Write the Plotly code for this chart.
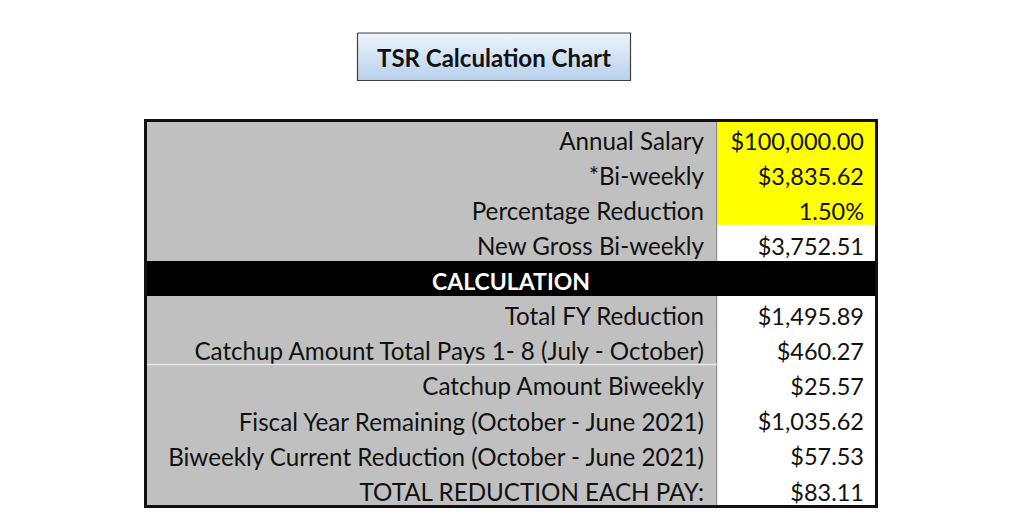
import plotly.graph_objects as go

# ---------------- data ----------------
title_text = "TSR Calculation Chart"
row_labels = [
    "Annual Salary",
    "*Bi-weekly",
    "Percentage Reduction",
    "New Gross Bi-weekly",
    "CALCULATION",
    "Total FY Reduction",
    "Catchup Amount Total Pays 1- 8 (July - October)",
    "Catchup Amount Biweekly",
    "Fiscal Year Remaining (October - June 2021)",
    "Biweekly Current Reduction (October - June 2021)",
    "TOTAL REDUCTION EACH PAY:",
]
row_values = [100000.00, 3835.62, 1.50, 3752.51, None, 1495.89, 460.27, 25.57, 1035.62, 57.53, 83.11]
row_formats = ["money", "money", "pct", "money", None, "money", "money", "money", "money", "money", "money"]
row_kinds = ["input", "input", "input", "plain", "header", "plain", "plain", "plain", "plain", "plain", "plain"]

# ---------------- styles ----------------
GRAY = "#c0c0c0"
YELLOW = "#ffff00"
WHITE = "#ffffff"
BLACK = "#000000"
FONT = "Lato"
W, H = 1024, 523
OFF = 8  # page body margin
ROW_PX = 35.1
TOP_PX = 120.5
X_LEFT, X_DIV, X_RIGHT = 145.5, 716.7, 876.5
LABEL_X, VALUE_X = 704, 864
EPS = 0.03
TEXT_DY = 0.66  # text sits a little low in each cell


def fmt(v, f):
    if v is None:
        return ""
    if f == "money":
        return "${:,.2f}".format(v)
    if f == "pct":
        return "{:.2f}%".format(v)
    return str(v)


n = len(row_labels)
y_top = (OFF - TOP_PX) / ROW_PX
y_bot = (H + OFF - TOP_PX) / ROW_PX

fig = go.Figure()
shapes = []

for i, kind in enumerate(row_kinds):
    y0 = i - (EPS if i > 0 else 0)
    y1 = i + 1 + (EPS if i < n - 1 else 0)
    if kind == "header":
        continue
    if i > 0 and row_kinds[i - 1] == "header":
        y0 = i
    if i + 1 < n and row_kinds[i + 1] == "header":
        y1 = i + 1
    shapes.append(dict(type="rect", xref="x", yref="y", x0=X_LEFT, x1=X_DIV + 1, y0=y0, y1=y1,
                       fillcolor=GRAY, line=dict(width=0), layer="below"))
    shapes.append(dict(type="rect", xref="x", yref="y", x0=X_DIV, x1=X_RIGHT, y0=y0, y1=y1,
                       fillcolor=YELLOW if kind == "input" else WHITE, line=dict(width=0), layer="below"))

hdr = row_kinds.index("header")
shapes.append(dict(type="rect", xref="x", yref="y", x0=X_LEFT, x1=X_RIGHT, y0=hdr, y1=hdr + 1,
                   fillcolor=BLACK, line=dict(width=0), layer="below"))
# column divider (not across header row)
shapes.append(dict(type="line", xref="x", yref="y", x0=X_DIV, x1=X_DIV, y0=0, y1=hdr,
                   line=dict(color="#7f7f7f", width=1)))
shapes.append(dict(type="line", xref="x", yref="y", x0=X_DIV, x1=X_DIV, y0=hdr + 1, y1=n,
                   line=dict(color="#7f7f7f", width=1)))
# faint separator in label column
shapes.append(dict(type="line", xref="x", yref="y", x0=X_LEFT, x1=X_DIV, y0=6.95, y1=6.95,
                   line=dict(color="#e8e8e8", width=1.5)))
# outer border
shapes.append(dict(type="rect", xref="x", yref="y", x0=X_LEFT, x1=X_RIGHT, y0=0, y1=n,
                   line=dict(color="#111111", width=3), fillcolor="rgba(0,0,0,0)"))

# title box with gradient
tb_x0, tb_x1 = 357.5, 630.5
tb_y0, tb_y1 = (33 - TOP_PX) / ROW_PX, (80.5 - TOP_PX) / ROW_PX
fig.add_trace(go.Scatter(
    x=[tb_x0, tb_x1, tb_x1, tb_x0, tb_x0], y=[tb_y0, tb_y0, tb_y1, tb_y1, tb_y0],
    mode="lines", fill="toself",
    fillgradient=dict(type="vertical", start=tb_y0, stop=tb_y1,
                      colorscale=[[0, "#eef4fc"], [1, "#b7d1ec"]]),
    line=dict(color="#404040", width=1.2), hoverinfo="skip", showlegend=False))
fig.add_trace(go.Scatter(
    x=[(tb_x0 + tb_x1) / 2], y=[(tb_y0 + tb_y1) / 2 + 0.11], mode="text",
    text=["<b>" + title_text + "</b>"], textposition="middle center",
    textfont=dict(family=FONT, size=24, color="#111111"), hoverinfo="skip", showlegend=False))

lab_idx = [i for i, k in enumerate(row_kinds) if k != "header"]
fig.add_trace(go.Scatter(
    x=[LABEL_X] * len(lab_idx), y=[i + TEXT_DY for i in lab_idx], mode="text",
    text=[row_labels[i] for i in lab_idx], textposition="middle left",
    textfont=dict(family=FONT, size=24.2, color="#111111"), hoverinfo="skip", showlegend=False))
fig.add_trace(go.Scatter(
    x=[VALUE_X] * len(lab_idx), y=[i + TEXT_DY for i in lab_idx], mode="text",
    text=[fmt(row_values[i], row_formats[i]) for i in lab_idx], textposition="middle left",
    textfont=dict(family=FONT, size=23.5, color="#111111"), hoverinfo="skip", showlegend=False))
fig.add_trace(go.Scatter(
    x=[(X_LEFT + X_RIGHT) / 2], y=[hdr + TEXT_DY], mode="text",
    text=["<b>" + row_labels[hdr] + "</b>"], textposition="middle center",
    textfont=dict(family=FONT, size=23, color="#ffffff"), hoverinfo="skip", showlegend=False))

fig.update_layout(
    width=W, height=H, margin=dict(l=0, r=0, t=0, b=0),
    paper_bgcolor="#ffffff", plot_bgcolor="#ffffff",
    xaxis=dict(range=[OFF, W + OFF], visible=False, fixedrange=True),
    yaxis=dict(range=[y_bot, y_top], visible=False, fixedrange=True),
    shapes=shapes, showlegend=False,
)

fig.write_html("out.html")
